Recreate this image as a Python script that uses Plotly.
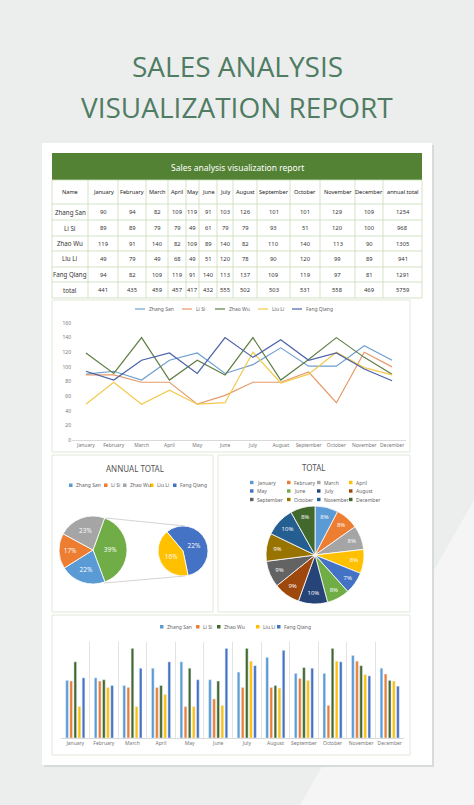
import plotly.graph_objects as go

W, H = 474, 805
months = ["January","February","March","April","May","June","July","August","September","October","November","December"]
names = ["Zhang San","Li Si","Zhao Wu","Liu Li","Fang Qiang"]
zhang_san = [90,94,82,109,119,91,103,126,101,101,129,109]
li_si = [89,89,79,79,49,61,79,79,93,51,120,100]
zhao_wu = [119,91,140,82,109,89,140,82,110,140,113,90]
liu_li = [49,79,49,68,49,51,120,78,90,120,99,89]
fang_qiang = [94,82,109,119,91,140,113,137,109,119,97,81]
series = [zhang_san, li_si, zhao_wu, liu_li, fang_qiang]
annual_totals = [1254,968,1305,941,1291]
month_totals = [441,435,459,457,417,432,555,502,503,531,558,469]
grand_total = 5759

line_colors = ["#6f9fd0","#e69a6a","#5f7f45","#f2c94c","#4a62a8"]
bar_colors = ["#5b9bd5","#ed7d31","#43682b","#ffc000","#4472c4"]
pie_colors = ["#5b9bd5","#ed7d31","#a5a5a5","#ffc000","#4472c4"]
month_colors = ["#5b9bd5","#ed7d31","#a5a5a5","#ffc000","#4472c4","#70ad47",
                "#264478","#9e480e","#636363","#997300","#255e91","#43682b"]

def px(x): return x / W
def py(y): return 1 - y / H
def dx(a, b): return [px(a), px(b)]
def dy(top, bot): return [py(bot), py(top)]

fig = go.Figure()
shapes = []
annotations = []
FONT = "Noto Sans"

def text(t, x, y, size=6, color="#333", xanchor="center", family=FONT):
    annotations.append(dict(text=t, x=px(x), y=py(y), xref="paper", yref="paper",
                            showarrow=False, xanchor=xanchor, yanchor="middle",
                            font=dict(size=size, color=color, family=family)))

def rect(x0, y0, x1, y1, fill, line=None, layer="below"):
    shapes.append(dict(type="rect", xref="paper", yref="paper", x0=px(x0), x1=px(x1),
                       y0=py(y1), y1=py(y0), fillcolor=fill,
                       line=dict(width=0) if line is None else line, layer=layer))

def seg(x0, y0, x1, y1, color, width=1):
    shapes.append(dict(type="line", xref="paper", yref="paper", x0=px(x0), y0=py(y0),
                       x1=px(x1), y1=py(y1), line=dict(color=color, width=width)))

# ---- background & card ----
shapes.append(dict(type="path", xref="paper", yref="paper",
                   path=f"M {px(300)} {py(805)} L 1 {py(500)} L 1 {py(805)} Z",
                   fillcolor="#f4f5f4", line_width=0, layer="below"))
rect(44, 145, 434, 767, "#d8dcd9")
rect(42, 143, 432, 765, "white")
rect(52, 153, 422, 180, "#548235")
for (x0, y0, x1, y1) in [(52,300,410,452),(52,455,213,612),(218,455,410,612),(52,615,410,755)]:
    rect(x0, y0, x1, y1, "rgba(0,0,0,0)", line=dict(color="#dfe8d8", width=1))

text("SALES ANALYSIS", 237, 66, size=28, color="#4f7c63", family="Open Sans")
text("VISUALIZATION REPORT", 237, 107, size=28, color="#4f7c63", family="Open Sans")
text("Sales analysis visualization report", 237, 167, size=8.5, color="white")

# ---- table (grid + text) ----
header = ["Name"] + months + ["annual total"]
table_rows = []
for n, s, t in zip(names, series, annual_totals):
    table_rows.append([n] + s + [t])
table_rows.append(["total"] + month_totals + [grand_total])
colx = [52,88,118,146,168,186,199,217,233,257,290,320,355,383,422]
rowy = [180,204,220,236,251,267,282,298]
for x in colx:
    seg(x, rowy[0], x, rowy[-1], "#c9dcb8", 0.8)
for y in rowy:
    seg(colx[0], y, colx[-1], y, "#c9dcb8", 0.8)
for j, h in enumerate(header):
    text(h, (colx[j] + colx[j+1]) / 2, (rowy[0] + rowy[1]) / 2, size=5.6, color="#222")
for i, r in enumerate(table_rows):
    for j, v in enumerate(r):
        text(str(v), (colx[j] + colx[j+1]) / 2, (rowy[i+1] + rowy[i+2]) / 2,
             size=6.2 if j == 0 else 5.8, color="#333")

# ---- line chart ----
for n, s, c in zip(names, series, line_colors):
    fig.add_trace(go.Scatter(x=months, y=s, name=n, mode="lines",
                             line=dict(color=c, width=1.2), xaxis="x", yaxis="y"))
for n, c, lx in zip(names, line_colors, [135,182,215,258,292]):
    seg(lx, 309, lx + 10, 309, c, 1.2)
    text(n, lx + 12, 309, size=5, color="#666", xanchor="left")

# ---- bar chart ----
for n, s, c in zip(names, series, bar_colors):
    fig.add_trace(go.Bar(x=months, y=s, name=n, marker_color=c, xaxis="x2", yaxis="y2"))
for n, c, lx in zip(names, bar_colors, [160,196,217,256,277]):
    rect(lx, 625, lx + 3.5, 628.5, c, layer="above")
    text(n, lx + 5, 627, size=5, color="#666", xanchor="left")

# ---- annual pie-of-pie ----
other = annual_totals[3] + annual_totals[4]
main_vals = [other, annual_totals[0], annual_totals[1], annual_totals[2]]
fig.add_trace(go.Pie(values=main_vals, labels=["Other","Zhang San","Li Si","Zhao Wu"],
                     marker=dict(colors=["#70ad47", pie_colors[0], pie_colors[1], pie_colors[2]],
                                 line=dict(color="white", width=0.8)),
                     sort=False, direction="clockwise", rotation=20,
                     texttemplate="%{percent:.0%}", textposition="inside",
                     insidetextorientation="horizontal",
                     textfont=dict(size=6.5, color="white"),
                     domain=dict(x=dx(59,127), y=dy(516,584))))
sub_vals = [annual_totals[4], annual_totals[3]]
fig.add_trace(go.Pie(values=sub_vals, labels=["Fang Qiang","Liu Li"],
                     customdata=[round(v/grand_total*100) for v in sub_vals],
                     marker=dict(colors=[pie_colors[4], pie_colors[3]],
                                 line=dict(color="white", width=0.8)),
                     sort=False, direction="clockwise", rotation=-40,
                     texttemplate="%{customdata}%", textposition="inside",
                     insidetextorientation="horizontal",
                     textfont=dict(size=6.5, color="white"),
                     domain=dict(x=dx(158,208), y=dy(526,576))))
seg(106, 518, 185, 526, "#c8c8c8", 0.8)
seg(104, 583, 185, 576, "#c8c8c8", 0.8)
text("ANNUAL TOTAL", 135, 468, size=8, color="#555")
for n, c, lx in zip(names, pie_colors, [69,104,123,150,173]):
    rect(lx, 483.5, lx + 3.5, 487, c, layer="above")
    text(n, lx + 5, 485.3, size=5, color="#666", xanchor="left")

# ---- month pie ----
fig.add_trace(go.Pie(values=month_totals, labels=months,
                     marker=dict(colors=month_colors, line=dict(color="white", width=0.8)),
                     sort=False, direction="clockwise", rotation=0,
                     texttemplate="%{percent:.0%}", textposition="inside",
                     insidetextorientation="horizontal",
                     textfont=dict(size=6, color="white"),
                     domain=dict(x=dx(266,364), y=dy(506,604))))
text("TOTAL", 314, 467, size=8, color="#555")
colxs = [250, 287, 317, 349]
rowys = [482.5, 491, 499.5]
for k, (m, c) in enumerate(zip(months, month_colors)):
    lx, ly = colxs[k % 4], rowys[k // 4]
    rect(lx, ly - 1.7, lx + 3.5, ly + 1.7, c, layer="above")
    text(m, lx + 5, ly, size=5, color="#666", xanchor="left")

axfont = dict(size=5, color="#777", family=FONT)
fig.update_layout(
    width=W, height=H, margin=dict(l=0, r=0, t=0, b=0, autoexpand=False),
    paper_bgcolor="#eceeed", plot_bgcolor="rgba(0,0,0,0)",
    showlegend=False,
    shapes=shapes, annotations=annotations,
    barmode="group", bargap=0.28, bargroupgap=0.35,
    xaxis=dict(domain=dx(72,406), anchor="y", tickfont=axfont, showgrid=False, tickangle=0,
               showline=True, linecolor="#d9d9d9", range=[-0.5, 11.5], ticks=""),
    yaxis=dict(domain=dy(323,440), anchor="x", range=[0,160], dtick=20, tickfont=axfont,
               showgrid=False, zeroline=False),
    xaxis2=dict(domain=dx(61,404), anchor="y2", tickfont=axfont, showgrid=True, tickangle=0,
                gridcolor="#e3e3e3", tickson="boundaries", ticks="", showline=True,
                linecolor="#d9d9d9", range=[-0.5, 11.5]),
    yaxis2=dict(domain=dy(642,738), anchor="x2", range=[0,150], showticklabels=False,
                showgrid=False, zeroline=False),
)
fig.write_html("out.html", config={"displayModeBar": False},
               post_script="document.body.style.margin='0';document.body.style.overflow='hidden';")
